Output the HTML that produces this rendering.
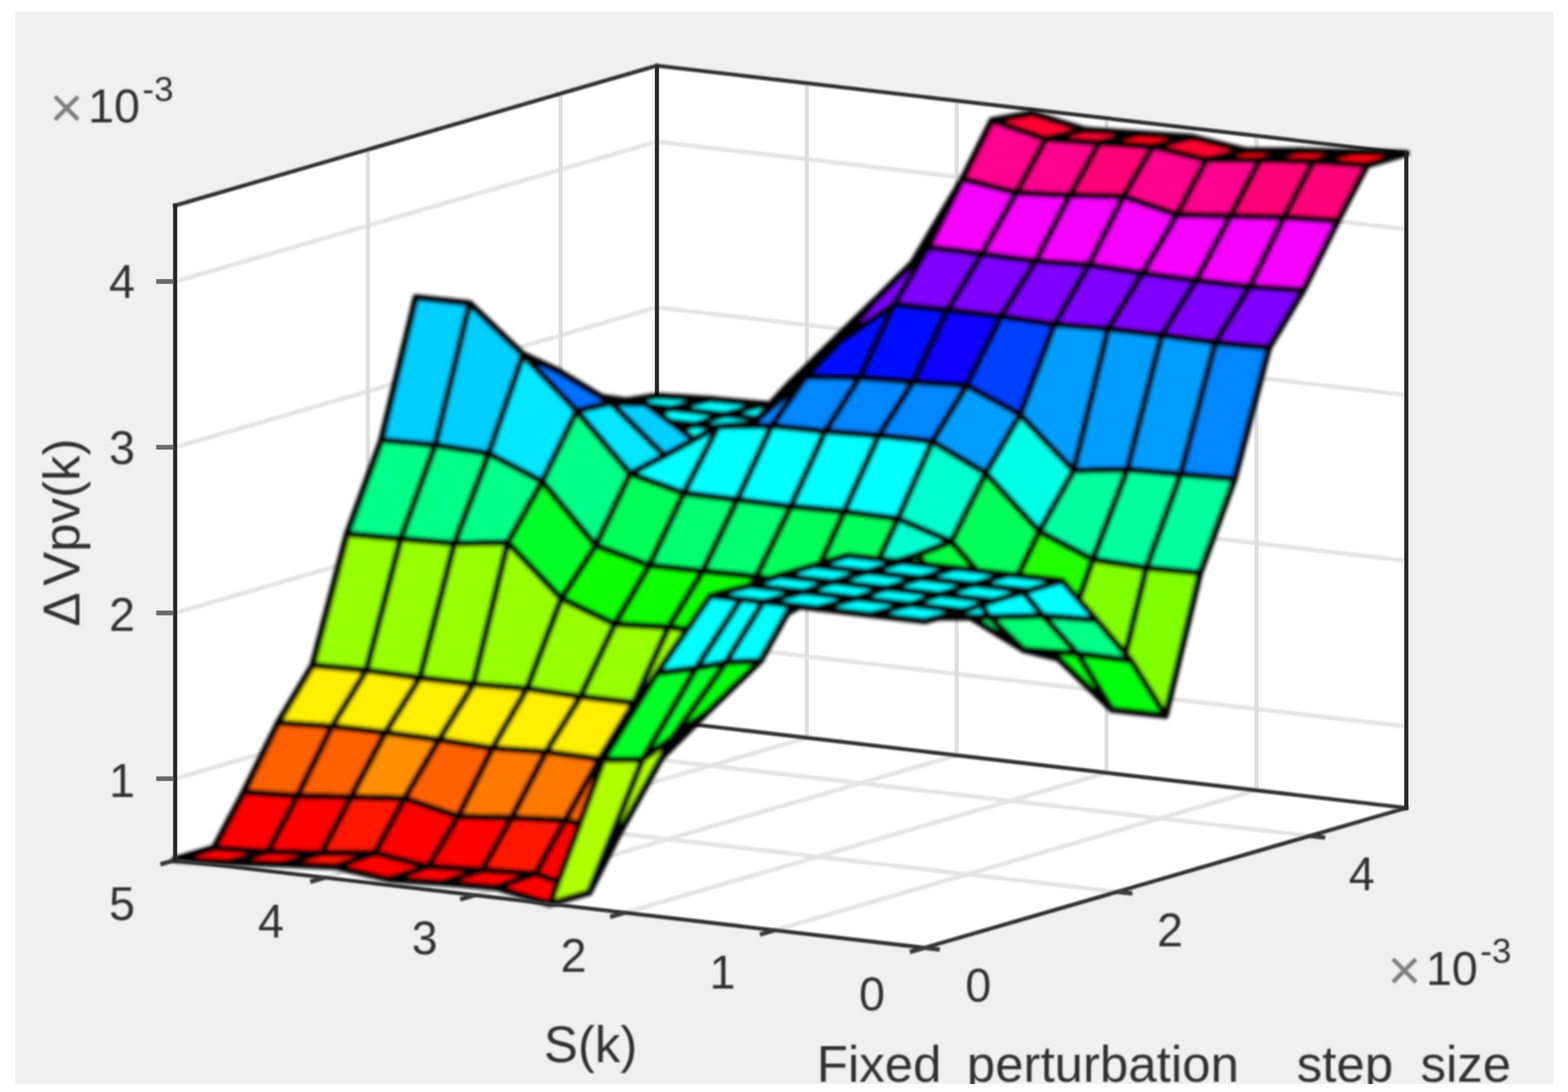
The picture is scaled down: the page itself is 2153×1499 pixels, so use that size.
<!DOCTYPE html><html><head><meta charset="utf-8"><title>Surface</title><style>html,body{margin:0;padding:0;background:#fff;overflow:hidden}svg{display:block}</style></head><body><svg xmlns="http://www.w3.org/2000/svg" width="2153" height="1499" viewBox="0 0 2153 1499"><defs><filter id="bl" x="-2%" y="-2%" width="104%" height="104%"><feGaussianBlur stdDeviation="2.50"/></filter><filter id="b1" x="-5%" y="-5%" width="110%" height="110%"><feGaussianBlur stdDeviation="1.1"/></filter></defs><rect x="0" y="0" width="2153" height="1499" fill="#fff"/><rect x="21" y="16" width="2112.4" height="1472" fill="#F0F0F0"/><polygon points="240.5,1180.6 1269.5,1301.0 1931.0,1109.0 902.0,988.6" fill="#fff"/><polygon points="240.5,1180.6 902.0,988.6 902.0,90.1 240.5,282.1" fill="#fff"/><polygon points="902.0,988.6 1931.0,1109.0 1931.0,210.5 902.0,90.1" fill="#fff"/><g filter="url(#b1)"><line x1="1063.7" y1="1276.9" x2="1725.2" y2="1084.9" stroke="#E4E4E4" stroke-width="6.0"/>
<line x1="857.9" y1="1252.8" x2="1519.4" y2="1060.8" stroke="#E4E4E4" stroke-width="6.0"/>
<line x1="652.1" y1="1228.8" x2="1313.6" y2="1036.8" stroke="#E4E4E4" stroke-width="6.0"/>
<line x1="446.3" y1="1204.7" x2="1107.8" y2="1012.7" stroke="#E4E4E4" stroke-width="6.0"/>
<line x1="1534.1" y1="1224.2" x2="505.1" y2="1103.8" stroke="#E4E4E4" stroke-width="6.0"/>
<line x1="1798.7" y1="1147.4" x2="769.7" y2="1027.0" stroke="#E4E4E4" stroke-width="6.0"/>
<line x1="240.5" y1="1068.9" x2="902.0" y2="876.9" stroke="#E4E4E4" stroke-width="6.0"/>
<line x1="902.0" y1="876.9" x2="1931.0" y2="997.3" stroke="#E4E4E4" stroke-width="6.0"/>
<line x1="240.5" y1="841.4" x2="902.0" y2="649.4" stroke="#E4E4E4" stroke-width="6.0"/>
<line x1="902.0" y1="649.4" x2="1931.0" y2="769.8" stroke="#E4E4E4" stroke-width="6.0"/>
<line x1="240.5" y1="613.9" x2="902.0" y2="421.9" stroke="#E4E4E4" stroke-width="6.0"/>
<line x1="902.0" y1="421.9" x2="1931.0" y2="542.3" stroke="#E4E4E4" stroke-width="6.0"/>
<line x1="240.5" y1="386.4" x2="902.0" y2="194.4" stroke="#E4E4E4" stroke-width="6.0"/>
<line x1="902.0" y1="194.4" x2="1931.0" y2="314.8" stroke="#E4E4E4" stroke-width="6.0"/></g><g><line x1="1725.2" y1="1081.9" x2="1725.2" y2="189.4" stroke="#DEDEDE" stroke-width="5.6"/>
<line x1="1519.4" y1="1057.8" x2="1519.4" y2="165.3" stroke="#DEDEDE" stroke-width="5.6"/>
<line x1="1313.6" y1="1033.8" x2="1313.6" y2="141.3" stroke="#DEDEDE" stroke-width="5.6"/>
<line x1="1107.8" y1="1009.7" x2="1107.8" y2="117.2" stroke="#DEDEDE" stroke-width="5.6"/>
<line x1="505.1" y1="1100.8" x2="505.1" y2="208.3" stroke="#DEDEDE" stroke-width="5.6"/>
<line x1="769.7" y1="1024.0" x2="769.7" y2="131.5" stroke="#DEDEDE" stroke-width="5.6"/></g><g stroke-linecap="square" filter="url(#b1)"><line x1="240.5" y1="1180.6" x2="902.0" y2="988.6" stroke="#303030" stroke-width="5.4"/>
<line x1="902.0" y1="988.6" x2="1931.0" y2="1109.0" stroke="#303030" stroke-width="5.4"/>
<line x1="240.5" y1="282.1" x2="902.0" y2="90.1" stroke="#303030" stroke-width="5.4"/>
<line x1="902.0" y1="90.1" x2="1931.0" y2="210.5" stroke="#303030" stroke-width="5.4"/></g><line x1="902.0" y1="988.6" x2="902.0" y2="90.1" stroke="#262626" stroke-width="5.6"/><g filter="url(#bl)"><g stroke="#000" stroke-width="9.2" stroke-linejoin="round">
<polygon points="921.2,560.7 847.8,552.0 902.0,543.6 975.5,548.1" fill="#00FFFF"/>
<polygon points="994.8,569.3 921.2,560.7 975.5,548.1 1049.0,554.9" fill="#00FFFF"/>
<polygon points="881.0,574.5 807.5,565.8 847.8,552.0 921.2,560.7" fill="#00FFFF"/>
<polygon points="1068.2,577.9 994.8,569.3 1049.0,554.9 1122.5,564.2" fill="#00FFFF"/>
<polygon points="954.5,583.1 881.0,574.5 921.2,560.7 994.8,569.3" fill="#00FFFF"/>
<polygon points="1141.8,586.6 1068.2,577.9 1122.5,564.2 1196.0,572.8" fill="#00FFFF"/>
<polygon points="833.8,588.2 760.2,579.6 807.5,565.8 881.0,574.5" fill="#00FFFF"/>
<polygon points="1028.0,591.7 954.5,583.1 994.8,569.3 1068.2,577.9" fill="#00FFFF"/>
<polygon points="907.2,596.9 833.8,588.2 881.0,574.5 954.5,583.1" fill="#00FFFF"/>
<polygon points="1215.2,473.4 1141.8,586.6 1196.0,572.8 1269.5,466.4" fill="#0040FF"/>
<polygon points="1101.5,600.4 1028.0,591.7 1068.2,577.9 1141.8,586.6" fill="#00FFFF"/>
<polygon points="786.5,602.0 713.0,593.4 760.2,579.6 833.8,588.2" fill="#00FFFF"/>
<polygon points="980.8,605.5 907.2,596.9 954.5,583.1 1028.0,591.7" fill="#00FFFF"/>
<polygon points="860.0,610.7 786.5,602.0 833.8,588.2 907.2,596.9" fill="#00FFFF"/>
<polygon points="1175.0,481.3 1101.5,600.4 1141.8,586.6 1215.2,473.4" fill="#0028FF"/>
<polygon points="1054.2,614.2 980.8,605.5 1028.0,591.7 1101.5,600.4" fill="#00FFFF"/>
<polygon points="1288.8,348.5 1215.2,473.4 1269.5,466.4 1343.0,347.9" fill="#AF00FF"/>
<polygon points="739.2,545.4 665.8,539.5 713.0,593.4 786.5,602.0" fill="#0087FF"/>
<polygon points="933.5,619.3 860.0,610.7 907.2,596.9 980.8,605.5" fill="#00FFFF"/>
<polygon points="812.8,543.6 739.2,545.4 786.5,602.0 860.0,610.7" fill="#0087FF"/>
<polygon points="1127.8,484.6 1054.2,614.2 1101.5,600.4 1175.0,481.3" fill="#0028FF"/>
<polygon points="1007.0,628.0 933.5,619.3 980.8,605.5 1054.2,614.2" fill="#00FFFF"/>
<polygon points="1248.5,369.1 1175.0,481.3 1215.2,473.4 1288.8,348.5" fill="#9700FF"/>
<polygon points="1362.2,165.6 1288.8,348.5 1343.0,347.9 1416.5,155.7" fill="#FF0018"/>
<polygon points="886.2,554.1 812.8,543.6 860.0,610.7 933.5,619.3" fill="#0087FF"/>
<polygon points="692.0,493.5 618.5,483.9 665.8,539.5 739.2,545.4" fill="#0028FF"/>
<polygon points="1080.5,530.9 1007.0,628.0 1054.2,614.2 1127.8,484.6" fill="#0058FF"/>
<polygon points="959.8,608.2 886.2,554.1 933.5,619.3 1007.0,628.0" fill="#00CFFF"/>
<polygon points="1201.2,412.9 1127.8,484.6 1175.0,481.3 1248.5,369.1" fill="#6800FF"/>
<polygon points="765.5,508.9 692.0,493.5 739.2,545.4 812.8,543.6" fill="#0028FF"/>
<polygon points="1322.0,245.8 1248.5,369.1 1288.8,348.5 1362.2,165.6" fill="#FF0078"/>
<polygon points="1435.8,191.0 1362.2,165.6 1416.5,155.7 1490.0,178.3" fill="#FF0030"/>
<polygon points="839.0,553.1 765.5,508.9 812.8,543.6 886.2,554.1" fill="#0070FF"/>
<polygon points="1033.2,582.0 959.8,608.2 1007.0,628.0 1080.5,530.9" fill="#009FFF"/>
<polygon points="644.8,416.8 571.2,408.5 618.5,483.9 692.0,493.5" fill="#8000FF"/>
<polygon points="1154.0,468.4 1080.5,530.9 1127.8,484.6 1201.2,412.9" fill="#2000FF"/>
<polygon points="1509.2,196.1 1435.8,191.0 1490.0,178.3 1563.5,183.4" fill="#FF0030"/>
<polygon points="1274.8,339.4 1201.2,412.9 1248.5,369.1 1322.0,245.8" fill="#F700FF"/>
<polygon points="912.5,625.6 839.0,553.1 886.2,554.1 959.8,608.2" fill="#00CFFF"/>
<polygon points="1395.5,264.6 1322.0,245.8 1362.2,165.6 1435.8,191.0" fill="#FF008F"/>
<polygon points="718.2,487.0 644.8,416.8 692.0,493.5 765.5,508.9" fill="#0800FF"/>
<polygon points="597.5,611.0 524.0,604.0 571.2,408.5 644.8,416.8" fill="#00CFFF"/>
<polygon points="1106.8,517.0 1033.2,582.0 1080.5,530.9 1154.0,468.4" fill="#0010FF"/>
<polygon points="1582.8,201.1 1509.2,196.1 1563.5,183.4 1637.0,188.4" fill="#FF0018"/>
<polygon points="986.0,585.1 912.5,625.6 959.8,608.2 1033.2,582.0" fill="#0087FF"/>
<polygon points="791.8,564.0 718.2,487.0 765.5,508.9 839.0,553.1" fill="#0070FF"/>
<polygon points="1227.5,417.8 1154.0,468.4 1201.2,412.9 1274.8,339.4" fill="#8000FF"/>
<polygon points="550.2,739.6 476.8,733.0 524.0,604.0 597.5,611.0" fill="#00FF87"/>
<polygon points="1469.0,268.0 1395.5,264.6 1435.8,191.0 1509.2,196.1" fill="#FF008F"/>
<polygon points="1348.2,348.5 1274.8,339.4 1322.0,245.8 1395.5,264.6" fill="#F700FF"/>
<polygon points="671.0,622.5 597.5,611.0 644.8,416.8 718.2,487.0" fill="#00CFFF"/>
<polygon points="865.2,650.1 791.8,564.0 839.0,553.1 912.5,625.6" fill="#00E7FF"/>
<polygon points="503.0,920.2 429.5,913.1 476.8,733.0 550.2,739.6" fill="#97FF00"/>
<polygon points="1656.2,219.5 1582.8,201.1 1637.0,188.4 1710.5,206.8" fill="#FF0030"/>
<polygon points="623.8,746.0 550.2,739.6 597.5,611.0 671.0,622.5" fill="#00FF87"/>
<polygon points="1059.5,584.4 986.0,585.1 1033.2,582.0 1106.8,517.0" fill="#0087FF"/>
<polygon points="744.5,661.0 671.0,622.5 718.2,487.0 791.8,564.0" fill="#00E7FF"/>
<polygon points="1542.5,269.6 1469.0,268.0 1509.2,196.1 1582.8,201.1" fill="#FF0078"/>
<polygon points="1180.2,518.1 1106.8,517.0 1154.0,468.4 1227.5,417.8" fill="#0010FF"/>
<polygon points="1421.8,358.5 1348.2,348.5 1395.5,264.6 1469.0,268.0" fill="#F700FF"/>
<polygon points="938.8,676.9 865.2,650.1 912.5,625.6 986.0,585.1" fill="#00FFFF"/>
<polygon points="1301.0,425.6 1227.5,417.8 1274.8,339.4 1348.2,348.5" fill="#8000FF"/>
<polygon points="455.8,997.0 382.2,992.0 429.5,913.1 503.0,920.2" fill="#FFEF00"/>
<polygon points="576.5,930.4 503.0,920.2 550.2,739.6 623.8,746.0" fill="#97FF00"/>
<polygon points="818.0,748.7 744.5,661.0 791.8,564.0 865.2,650.1" fill="#00FF87"/>
<polygon points="1729.8,219.5 1656.2,219.5 1710.5,206.8 1784.0,206.8" fill="#FF0018"/>
<polygon points="697.2,744.6 623.8,746.0 671.0,622.5 744.5,661.0" fill="#00FF87"/>
<polygon points="1616.0,294.7 1542.5,269.6 1582.8,201.1 1656.2,219.5" fill="#FF008F"/>
<polygon points="1495.2,363.5 1421.8,358.5 1469.0,268.0 1542.5,269.6" fill="#F700FF"/>
<polygon points="1374.5,434.2 1301.0,425.6 1348.2,348.5 1421.8,358.5" fill="#8000FF"/>
<polygon points="1253.8,524.0 1180.2,518.1 1227.5,417.8 1301.0,425.6" fill="#0010FF"/>
<polygon points="1133.0,592.2 1059.5,584.4 1106.8,517.0 1180.2,518.1" fill="#0087FF"/>
<polygon points="529.2,1005.5 455.8,997.0 503.0,920.2 576.5,930.4" fill="#FFEF00"/>
<polygon points="1012.2,686.0 938.8,676.9 986.0,585.1 1059.5,584.4" fill="#00FFFF"/>
<polygon points="408.5,1092.4 335.0,1087.4 382.2,992.0 455.8,997.0" fill="#FF6000"/>
<polygon points="891.5,776.0 818.0,748.7 865.2,650.1 938.8,676.9" fill="#00FF58"/>
<polygon points="650.0,939.0 576.5,930.4 623.8,746.0 697.2,744.6" fill="#97FF00"/>
<polygon points="770.8,821.5 697.2,744.6 744.5,661.0 818.0,748.7" fill="#00FF28"/>
<polygon points="1803.2,221.5 1729.8,219.5 1784.0,206.8 1857.5,208.8" fill="#FF0018"/>
<polygon points="1689.5,296.5 1616.0,294.7 1656.2,219.5 1729.8,219.5" fill="#FF008F"/>
<polygon points="1568.8,375.0 1495.2,363.5 1542.5,269.6 1616.0,294.7" fill="#F700FF"/>
<polygon points="965.0,784.0 891.5,776.0 938.8,676.9 1012.2,686.0" fill="#00FF70"/>
<polygon points="1448.0,445.2 1374.5,434.2 1421.8,358.5 1495.2,363.5" fill="#8000FF"/>
<polygon points="602.8,1015.5 529.2,1005.5 576.5,930.4 650.0,939.0" fill="#FFEF00"/>
<polygon points="1327.2,529.0 1253.8,524.0 1301.0,425.6 1374.5,434.2" fill="#0800FF"/>
<polygon points="1206.5,597.8 1133.0,592.2 1180.2,518.1 1253.8,524.0" fill="#0087FF"/>
<polygon points="1085.8,695.2 1012.2,686.0 1059.5,584.4 1133.0,592.2" fill="#00FFFF"/>
<polygon points="844.2,856.6 770.8,821.5 818.0,748.7 891.5,776.0" fill="#08FF00"/>
<polygon points="482.0,1094.0 408.5,1092.4 455.8,997.0 529.2,1005.5" fill="#FF6000"/>
<polygon points="367.8,1169.0 294.2,1164.0 335.0,1087.4 408.5,1092.4" fill="#FF0000"/>
<polygon points="723.5,945.3 650.0,939.0 697.2,744.6 770.8,821.5" fill="#97FF00"/>
<polygon points="1876.8,226.5 1803.2,221.5 1857.5,208.8 1931.0,210.5" fill="#FF0018"/>
<polygon points="1763.0,298.1 1689.5,296.5 1729.8,219.5 1803.2,221.5" fill="#FF0078"/>
<polygon points="1642.2,385.0 1568.8,375.0 1616.0,294.7 1689.5,296.5" fill="#F700FF"/>
<polygon points="1400.8,569.0 1327.2,529.0 1374.5,434.2 1448.0,445.2" fill="#0040FF"/>
<polygon points="1038.5,791.5 965.0,784.0 1012.2,686.0 1085.8,695.2" fill="#00FF70"/>
<polygon points="1521.5,451.5 1448.0,445.2 1495.2,363.5 1568.8,375.0" fill="#8000FF"/>
<polygon points="917.8,860.8 844.2,856.6 891.5,776.0 965.0,784.0" fill="#08FF00"/>
<polygon points="676.2,1027.0 602.8,1015.5 650.0,939.0 723.5,945.3" fill="#FFEF00"/>
<polygon points="797.0,956.3 723.5,945.3 770.8,821.5 844.2,856.6" fill="#97FF00"/>
<polygon points="1159.2,702.2 1085.8,695.2 1133.0,592.2 1206.5,597.8" fill="#00FFFF"/>
<polygon points="1280.0,606.0 1206.5,597.8 1253.8,524.0 1327.2,529.0" fill="#0087FF"/>
<polygon points="555.5,1095.8 482.0,1094.0 529.2,1005.5 602.8,1015.5" fill="#FF8F00"/>
<polygon points="441.2,1171.0 367.8,1169.0 408.5,1092.4 482.0,1094.0" fill="#FF0000"/>
<polygon points="314.0,1183.7 240.5,1180.0 294.2,1164.0 367.8,1169.0" fill="#FF0000"/>
<polygon points="1474.2,645.9 1400.8,569.0 1448.0,445.2 1521.5,451.5" fill="#009FFF"/>
<polygon points="1836.5,303.1 1763.0,298.1 1803.2,221.5 1876.8,226.5" fill="#FF0078"/>
<polygon points="1715.8,393.5 1642.2,385.0 1689.5,296.5 1763.0,298.1" fill="#F700FF"/>
<polygon points="1353.5,649.5 1280.0,606.0 1327.2,529.0 1400.8,569.0" fill="#009FFF"/>
<polygon points="1112.0,804.7 1038.5,791.5 1085.8,695.2 1159.2,702.2" fill="#00FF58"/>
<polygon points="1595.0,460.1 1521.5,451.5 1568.8,375.0 1642.2,385.0" fill="#8000FF"/>
<polygon points="870.5,964.9 797.0,956.3 844.2,856.6 917.8,860.8" fill="#97FF00"/>
<polygon points="991.2,870.4 917.8,860.8 965.0,784.0 1038.5,791.5" fill="#08FF00"/>
<polygon points="749.8,1032.0 676.2,1027.0 723.5,945.3 797.0,956.3" fill="#FFEF00"/>
<polygon points="1232.8,712.0 1159.2,702.2 1206.5,597.8 1280.0,606.0" fill="#00FFFF"/>
<polygon points="629.0,1120.9 555.5,1095.8 602.8,1015.5 676.2,1027.0" fill="#FF6000"/>
<polygon points="514.8,1171.0 441.2,1171.0 482.0,1094.0 555.5,1095.8" fill="#FF1800"/>
<polygon points="387.5,1186.2 314.0,1183.7 367.8,1169.0 441.2,1171.0" fill="#FF0000"/>
<polygon points="1427.0,729.5 1353.5,649.5 1400.8,569.0 1474.2,645.9" fill="#00FFE7"/>
<polygon points="1547.8,644.5 1474.2,645.9 1521.5,451.5 1595.0,460.1" fill="#009FFF"/>
<polygon points="1306.2,743.6 1232.8,712.0 1280.0,606.0 1353.5,649.5" fill="#00FFCF"/>
<polygon points="1789.2,398.5 1715.8,393.5 1763.0,298.1 1836.5,303.1" fill="#F700FF"/>
<polygon points="1185.5,813.3 1112.0,804.7 1159.2,702.2 1232.8,712.0" fill="#00FF58"/>
<polygon points="1668.5,470.3 1595.0,460.1 1642.2,385.0 1715.8,393.5" fill="#8000FF"/>
<polygon points="823.2,1042.0 749.8,1032.0 797.0,956.3 870.5,964.9" fill="#FFEF00"/>
<polygon points="944.0,967.4 870.5,964.9 917.8,860.8 991.2,870.4" fill="#97FF00"/>
<polygon points="1064.8,850.3 991.2,870.4 1038.5,791.5 1112.0,804.7" fill="#00FF28"/>
<polygon points="702.5,1122.5 629.0,1120.9 676.2,1027.0 749.8,1032.0" fill="#FF7800"/>
<polygon points="588.2,1189.4 514.8,1171.0 555.5,1095.8 629.0,1120.9" fill="#FF0000"/>
<polygon points="1500.5,768.0 1427.0,729.5 1474.2,645.9 1547.8,644.5" fill="#00FF9F"/>
<polygon points="461.0,1189.6 387.5,1186.2 441.2,1171.0 514.8,1171.0" fill="#FF1800"/>
<polygon points="1379.8,826.5 1306.2,743.6 1353.5,649.5 1427.0,729.5" fill="#00FF58"/>
<polygon points="1621.2,650.9 1547.8,644.5 1595.0,460.1 1668.5,470.3" fill="#009FFF"/>
<polygon points="1742.0,477.4 1668.5,470.3 1715.8,393.5 1789.2,398.5" fill="#8000FF"/>
<polygon points="896.8,1051.0 823.2,1042.0 870.5,964.9 944.0,967.4" fill="#FFEF00"/>
<polygon points="1259.0,761.9 1185.5,813.3 1232.8,712.0 1306.2,743.6" fill="#00FFCF"/>
<polygon points="776.0,1125.9 702.5,1122.5 749.8,1032.0 823.2,1042.0" fill="#FF7800"/>
<polygon points="661.8,1194.4 588.2,1189.4 629.0,1120.9 702.5,1122.5" fill="#FF0000"/>
<polygon points="1453.2,903.5 1379.8,826.5 1427.0,729.5 1500.5,768.0" fill="#20FF00"/>
<polygon points="1138.2,808.9 1064.8,850.3 1112.0,804.7 1185.5,813.3" fill="#00FF87"/>
<polygon points="1017.5,909.6 944.0,967.4 991.2,870.4 1064.8,850.3" fill="#20FF00"/>
<polygon points="1574.0,779.5 1500.5,768.0 1547.8,644.5 1621.2,650.9" fill="#00FF9F"/>
<polygon points="534.5,1207.1 461.0,1189.6 514.8,1171.0 588.2,1189.4" fill="#FF0000"/>
<polygon points="1694.8,657.5 1621.2,650.9 1668.5,470.3 1742.0,477.4" fill="#0087FF"/>
<polygon points="1332.5,846.8 1259.0,761.9 1306.2,743.6 1379.8,826.5" fill="#00FF40"/>
<polygon points="1526.8,973.7 1453.2,903.5 1500.5,768.0 1574.0,779.5" fill="#80FF00"/>
<polygon points="849.5,1144.7 776.0,1125.9 823.2,1042.0 896.8,1051.0" fill="#FF6000"/>
<polygon points="735.2,1199.5 661.8,1194.4 702.5,1122.5 776.0,1125.9" fill="#FF1800"/>
<polygon points="1647.5,786.5 1574.0,779.5 1621.2,650.9 1694.8,657.5" fill="#00FF9F"/>
<polygon points="970.2,978.0 896.8,1051.0 944.0,967.4 1017.5,909.6" fill="#80FF00"/>
<polygon points="1406.0,891.8 1332.5,846.8 1379.8,826.5 1453.2,903.5" fill="#00FF10"/>
<polygon points="1211.8,776.6 1138.2,808.9 1185.5,813.3 1259.0,761.9" fill="#00FFCF"/>
<polygon points="608.0,1211.9 534.5,1207.1 588.2,1189.4 661.8,1194.4" fill="#FF0000"/>
<polygon points="1091.0,815.9 1017.5,909.6 1064.8,850.3 1138.2,808.9" fill="#00FF87"/>
<polygon points="1600.2,982.0 1526.8,973.7 1574.0,779.5 1647.5,786.5" fill="#80FF00"/>
<polygon points="1479.5,897.0 1406.0,891.8 1453.2,903.5 1526.8,973.7" fill="#00FF10"/>
<polygon points="808.8,1224.9 735.2,1199.5 776.0,1125.9 849.5,1144.7" fill="#FF0000"/>
<polygon points="1285.2,846.9 1211.8,776.6 1259.0,761.9 1332.5,846.8" fill="#00FF58"/>
<polygon points="923.0,1013.0 849.5,1144.7 896.8,1051.0 970.2,978.0" fill="#AFFF00"/>
<polygon points="681.5,1218.2 608.0,1211.9 661.8,1194.4 735.2,1199.5" fill="#FF0000"/>
<polygon points="1043.8,907.0 970.2,978.0 1017.5,909.6 1091.0,815.9" fill="#00FF10"/>
<polygon points="1553.0,906.6 1479.5,897.0 1526.8,973.7 1600.2,982.0" fill="#00FF10"/>
<polygon points="1358.8,846.9 1285.2,846.9 1332.5,846.8 1406.0,891.8" fill="#00FF70"/>
<polygon points="1164.5,762.5 1091.0,815.9 1138.2,808.9 1211.8,776.6" fill="#00FFFF"/>
<polygon points="755.0,1240.5 681.5,1218.2 735.2,1199.5 808.8,1224.9" fill="#FF0000"/>
<polygon points="882.2,1042.5 808.8,1224.9 849.5,1144.7 923.0,1013.0" fill="#AFFF00"/>
<polygon points="1432.2,845.1 1358.8,846.9 1406.0,891.8 1479.5,897.0" fill="#00FF70"/>
<polygon points="1238.0,771.2 1164.5,762.5 1211.8,776.6 1285.2,846.9" fill="#00FFFF"/>
<polygon points="996.5,909.2 923.0,1013.0 970.2,978.0 1043.8,907.0" fill="#00FF10"/>
<polygon points="1117.2,776.3 1043.8,907.0 1091.0,815.9 1164.5,762.5" fill="#00FFFF"/>
<polygon points="1311.5,779.8 1238.0,771.2 1285.2,846.9 1358.8,846.9" fill="#00FFFF"/>
<polygon points="1505.8,851.0 1432.2,845.1 1479.5,897.0 1553.0,906.6" fill="#00FF87"/>
<polygon points="828.5,1042.6 755.0,1240.5 808.8,1224.9 882.2,1042.5" fill="#AFFF00"/>
<polygon points="955.8,917.1 882.2,1042.5 923.0,1013.0 996.5,909.2" fill="#00FF28"/>
<polygon points="1190.8,785.0 1117.2,776.3 1164.5,762.5 1238.0,771.2" fill="#00FFFF"/>
<polygon points="1070.0,790.1 996.5,909.2 1043.8,907.0 1117.2,776.3" fill="#00FFFF"/>
<polygon points="1385.0,788.5 1311.5,779.8 1358.8,846.9 1432.2,845.1" fill="#00FFFF"/>
<polygon points="1264.2,793.6 1190.8,785.0 1238.0,771.2 1311.5,779.8" fill="#00FFFF"/>
<polygon points="1458.5,797.1 1385.0,788.5 1432.2,845.1 1505.8,851.0" fill="#00FFFF"/>
<polygon points="902.0,924.1 828.5,1042.6 882.2,1042.5 955.8,917.1" fill="#00FF28"/>
<polygon points="1143.5,798.8 1070.0,790.1 1117.2,776.3 1190.8,785.0" fill="#00FFFF"/>
<polygon points="1029.2,803.9 955.8,917.1 996.5,909.2 1070.0,790.1" fill="#00FFFF"/>
<polygon points="1337.8,802.2 1264.2,793.6 1311.5,779.8 1385.0,788.5" fill="#00FFFF"/>
<polygon points="1217.0,807.4 1143.5,798.8 1190.8,785.0 1264.2,793.6" fill="#00FFFF"/>
<polygon points="1411.2,810.9 1337.8,802.2 1385.0,788.5 1458.5,797.1" fill="#00FFFF"/>
<polygon points="1102.8,812.5 1029.2,803.9 1070.0,790.1 1143.5,798.8" fill="#00FFFF"/>
<polygon points="975.5,817.7 902.0,924.1 955.8,917.1 1029.2,803.9" fill="#00FFFF"/>
<polygon points="1290.5,816.0 1217.0,807.4 1264.2,793.6 1337.8,802.2" fill="#00FFFF"/>
<polygon points="1176.2,821.2 1102.8,812.5 1143.5,798.8 1217.0,807.4" fill="#00FFFF"/>
<polygon points="1364.0,824.7 1290.5,816.0 1337.8,802.2 1411.2,810.9" fill="#00FFFF"/>
<polygon points="1049.0,826.3 975.5,817.7 1029.2,803.9 1102.8,812.5" fill="#00FFFF"/>
<polygon points="1249.8,829.8 1176.2,821.2 1217.0,807.4 1290.5,816.0" fill="#00FFFF"/>
<polygon points="1122.5,835.0 1049.0,826.3 1102.8,812.5 1176.2,821.2" fill="#00FFFF"/>
<polygon points="1323.2,838.5 1249.8,829.8 1290.5,816.0 1364.0,824.7" fill="#00FFFF"/>
<polygon points="1196.0,843.6 1122.5,835.0 1176.2,821.2 1249.8,829.8" fill="#00FFFF"/>
<polygon points="1269.5,852.3 1196.0,843.6 1249.8,829.8 1323.2,838.5" fill="#00FFFF"/>
</g>
</g><g filter="url(#b1)"><line x1="240.5" y1="1180.6" x2="1269.5" y2="1301.0" stroke="#303030" stroke-width="5.4"/>
<line x1="1269.5" y1="1301.0" x2="1931.0" y2="1109.0" stroke="#303030" stroke-width="5.4"/>
<line x1="1269.5" y1="1301.0" x2="1249.3" y2="1306.9" stroke="#3a3a3a" stroke-width="6.0"/>
<line x1="1063.7" y1="1276.9" x2="1043.5" y2="1282.8" stroke="#3a3a3a" stroke-width="6.0"/>
<line x1="857.9" y1="1252.8" x2="837.7" y2="1258.7" stroke="#3a3a3a" stroke-width="6.0"/>
<line x1="652.1" y1="1228.8" x2="631.9" y2="1234.6" stroke="#3a3a3a" stroke-width="6.0"/>
<line x1="446.3" y1="1204.7" x2="426.1" y2="1210.5" stroke="#3a3a3a" stroke-width="6.0"/>
<line x1="240.5" y1="1180.6" x2="220.3" y2="1186.5" stroke="#3a3a3a" stroke-width="6.0"/>
<line x1="1269.5" y1="1301.0" x2="1290.4" y2="1303.4" stroke="#3a3a3a" stroke-width="6.0"/>
<line x1="1534.1" y1="1224.2" x2="1555.0" y2="1226.6" stroke="#3a3a3a" stroke-width="6.0"/>
<line x1="1798.7" y1="1147.4" x2="1819.6" y2="1149.8" stroke="#3a3a3a" stroke-width="6.0"/></g><g><line x1="240.5" y1="1183.1" x2="240.5" y2="279.6" stroke="#262626" stroke-width="5.6"/>
<line x1="1931.0" y1="1111.5" x2="1931.0" y2="208.0" stroke="#262626" stroke-width="5.6"/>
<line x1="214.5" y1="1068.9" x2="238.5" y2="1068.9" stroke="#6a6a6a" stroke-width="6.5"/>
<line x1="214.5" y1="841.4" x2="238.5" y2="841.4" stroke="#6a6a6a" stroke-width="6.5"/>
<line x1="214.5" y1="613.9" x2="238.5" y2="613.9" stroke="#6a6a6a" stroke-width="6.5"/>
<line x1="214.5" y1="386.4" x2="238.5" y2="386.4" stroke="#6a6a6a" stroke-width="6.5"/></g><g font-family="'Liberation Sans', Arial, sans-serif" fill="#333" filter="url(#b1)"><text x="167.5" y="408.5" font-size="64" text-anchor="middle" >4</text>
<text x="167.5" y="636.5" font-size="64" text-anchor="middle" >3</text>
<text x="167.5" y="865.5" font-size="64" text-anchor="middle" >2</text>
<text x="167.5" y="1094.0" font-size="64" text-anchor="middle" >1</text>
<text x="167.5" y="1263.0" font-size="64" text-anchor="middle" >5</text>
<text x="372.0" y="1286.7" font-size="64" text-anchor="middle" >4</text>
<text x="583.0" y="1310.0" font-size="64" text-anchor="middle" >3</text>
<text x="787.6" y="1334.0" font-size="64" text-anchor="middle" >2</text>
<text x="992.0" y="1357.0" font-size="64" text-anchor="middle" >1</text>
<text x="1197.4" y="1387.0" font-size="64" text-anchor="middle" >0</text>
<text x="1343.3" y="1374.5" font-size="64" text-anchor="middle" >0</text>
<text x="1606.5" y="1298.5" font-size="64" text-anchor="middle" >2</text>
<text x="1869.8" y="1222.3" font-size="64" text-anchor="middle" >4</text>
<text x="68.0" y="175.0" font-size="80" text-anchor="start" fill="#808080">×</text>
<text x="121.0" y="168.0" font-size="64" text-anchor="start" >10</text>
<text x="195.5" y="138.5" font-size="48" text-anchor="start" >-3</text>
<text x="1905.0" y="1358.7" font-size="80" text-anchor="start" fill="#808080">×</text>
<text x="1958.0" y="1351.7" font-size="64" text-anchor="start" >10</text>
<text x="2032.5" y="1322.2" font-size="48" text-anchor="start" >-3</text>
<text x="811.0" y="1457.6" font-size="70" text-anchor="middle" >S(k)</text>
<text x="1121.5" y="1485.3" font-size="70" text-anchor="start" >Fixed</text>
<text x="1327.5" y="1485.3" font-size="70" text-anchor="start" >perturbation</text>
<text x="1780.5" y="1485.3" font-size="70" text-anchor="start" >step</text>
<text x="1950.5" y="1485.3" font-size="70" text-anchor="start" >size</text>
<text x="0.0" y="0.0" font-size="70" text-anchor="middle" transform="translate(109,731) rotate(-90)">Δ<tspan dx="9">Vpv(k)</tspan></text></g><rect x="0" y="1488" width="2153" height="11" fill="#fff"/><rect x="2133.4" y="0" width="20" height="1499" fill="#fff"/><rect x="0" y="0" width="21" height="1499" fill="#fff"/><rect x="0" y="0" width="2153" height="16" fill="#fff"/></svg></body></html>
